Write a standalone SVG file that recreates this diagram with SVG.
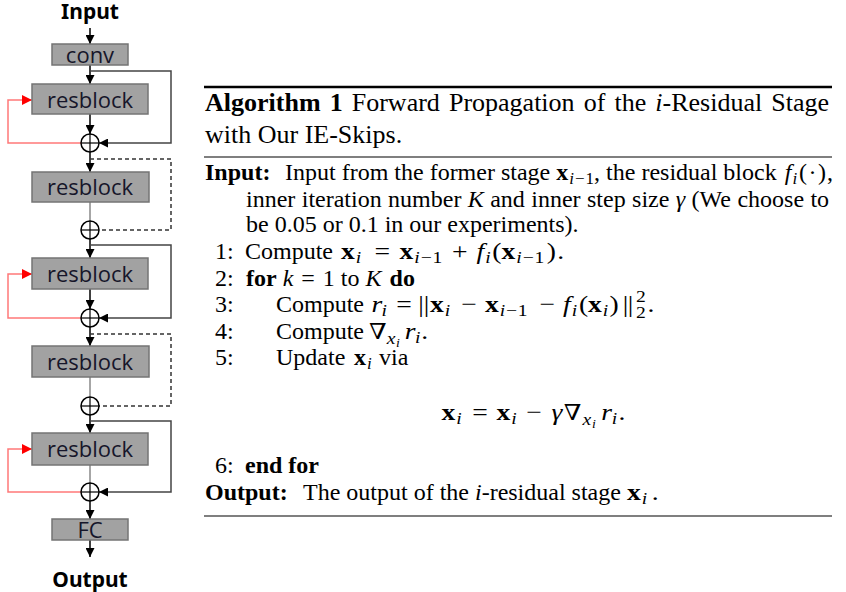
<svg xmlns="http://www.w3.org/2000/svg" width="846" height="592" viewBox="0 0 846 592">
<defs>
<marker id="ah" markerUnits="userSpaceOnUse" markerWidth="9" markerHeight="9" refX="9" refY="4.5" orient="auto"><path d="M0,0 L9,4.5 L0,9 z" fill="#000"/></marker>
<marker id="ahr" markerUnits="userSpaceOnUse" markerWidth="10" markerHeight="10" refX="10" refY="5" orient="auto"><path d="M0,0 L10,5 L0,10 z" fill="#ff0000"/></marker>
</defs>
<style>
.box{fill:#a2a2a2;stroke:#747474;stroke-width:1.5}
.lbl{font-family:"Open Sans","Noto Sans",sans-serif;font-size:22px;fill:#16162a;text-anchor:middle}
.io{font-family:"Noto Sans","Open Sans",sans-serif;font-weight:bold;font-size:21px;fill:#000;text-anchor:middle}
.main{stroke:#000;stroke-width:1.5;fill:none}
.gray{stroke:#888;stroke-width:1.5;fill:none}
.skip{stroke:#444;stroke-width:1.5;fill:none}
.dash{stroke:#333;stroke-width:1.5;fill:none;stroke-dasharray:4 3}
.red{stroke:#ff7878;stroke-width:1.5;fill:none}
.sum circle{fill:#fff;stroke:#000;stroke-width:1.5}
.sum line{stroke:#000;stroke-width:1.2}
.t{font-family:"Liberation Serif","DejaVu Serif",serif;font-size:24px;fill:#000}
.h{font-size:26px}
.b{font-weight:bold}
.i{font-style:italic}
.s{font-size:17px}
.ss{font-size:12px}
.nb{font-size:22px}
.rule{stroke:#000}
</style>

<g id="connectors">
<line class="main" x1="90" y1="28" x2="90" y2="44" marker-end="url(#ah)"/>
<line class="main" x1="90" y1="65" x2="90" y2="84" marker-end="url(#ah)"/>
<line class="main" x1="90" y1="114" x2="90" y2="134" marker-end="url(#ah)"/>
<path class="skip" d="M90,71 H171 V143 H99" marker-end="url(#ah)"/>
<path class="red" d="M81,143 H8 V100 H32" marker-end="url(#ahr)"/>
<line class="main" x1="90" y1="152" x2="90" y2="172" marker-end="url(#ah)"/>
<path class="dash" d="M90,159 H171 V230 H99"/>
<line class="gray" x1="90" y1="202" x2="90" y2="221"/>
<line class="main" x1="90" y1="239" x2="90" y2="258" marker-end="url(#ah)"/>
<path class="skip" d="M90,245 H171 V318 H99" marker-end="url(#ah)"/>
<line class="main" x1="90" y1="289" x2="90" y2="309" marker-end="url(#ah)"/>
<path class="red" d="M81,318 H8 V274 H32" marker-end="url(#ahr)"/>
<line class="main" x1="90" y1="327" x2="90" y2="346" marker-end="url(#ah)"/>
<path class="dash" d="M90,334 H171 V406 H99"/>
<line class="gray" x1="90" y1="377" x2="90" y2="397"/>
<line class="main" x1="90" y1="415" x2="90" y2="433" marker-end="url(#ah)"/>
<path class="skip" d="M90,421 H171 V492 H99" marker-end="url(#ah)"/>
<line class="gray" x1="90" y1="465" x2="90" y2="483"/>
<path class="red" d="M81,492 H8 V449 H32" marker-end="url(#ahr)"/>
<line class="main" x1="90" y1="501" x2="90" y2="519" marker-end="url(#ah)"/>
<line class="main" x1="90" y1="540" x2="90" y2="557" marker-end="url(#ah)"/>
</g>

<g id="input"><text class="io" x="90" y="19">Input</text></g>
<g id="conv"><rect class="box" x="52" y="44" width="76" height="21"/><text class="lbl" x="90" y="63">conv</text></g>
<g id="resblock1"><rect class="box" x="32" y="84" width="116" height="30"/><text class="lbl" x="90" y="108">resblock</text></g>
<g id="sum1" class="sum"><circle cx="90" cy="143" r="9"/><line x1="81" y1="143" x2="99" y2="143"/><line x1="90" y1="134" x2="90" y2="152"/></g>
<g id="resblock2"><rect class="box" x="32" y="172" width="117" height="30"/><text class="lbl" x="90" y="195">resblock</text></g>
<g id="sum2" class="sum"><circle cx="90" cy="230" r="9"/><line x1="81" y1="230" x2="99" y2="230"/><line x1="90" y1="221" x2="90" y2="239"/></g>
<g id="resblock3"><rect class="box" x="32" y="258" width="116" height="31"/><text class="lbl" x="90" y="282">resblock</text></g>
<g id="sum3" class="sum"><circle cx="90" cy="318" r="9"/><line x1="81" y1="318" x2="99" y2="318"/><line x1="90" y1="309" x2="90" y2="327"/></g>
<g id="resblock4"><rect class="box" x="32" y="346" width="117" height="31"/><text class="lbl" x="90" y="370">resblock</text></g>
<g id="sum4" class="sum"><circle cx="90" cy="406" r="9"/><line x1="81" y1="406" x2="99" y2="406"/><line x1="90" y1="397" x2="90" y2="415"/></g>
<g id="resblock5"><rect class="box" x="32" y="433" width="116" height="32"/><text class="lbl" x="90" y="457">resblock</text></g>
<g id="sum5" class="sum"><circle cx="90" cy="492" r="9"/><line x1="81" y1="492" x2="99" y2="492"/><line x1="90" y1="483" x2="90" y2="501"/></g>
<g id="fc"><rect class="box" x="52" y="519" width="76" height="21"/><text class="lbl" x="90" y="538">FC</text></g>
<g id="output"><text class="io" x="90" y="587">Output</text></g>

<g id="algorithm">
<line class="rule" x1="204" y1="87" x2="832" y2="87" stroke-width="2.6"/>
<line class="rule" x1="204" y1="157" x2="832" y2="157" stroke-width="1.2"/>
<line class="rule" x1="204" y1="516" x2="832" y2="516" stroke-width="1.2"/>

<text class="t h" x="205" y="111" word-spacing="2.6"><tspan class="b">Algorithm 1</tspan> Forward Propagation of the <tspan class="i">i</tspan>-Residual Stage</text>
<text class="t h" x="205" y="143">with Our IE-Skips.</text>

<text class="t b" x="205" y="180">Input:</text>
<text class="t" x="285" y="180">Input from the former stage <tspan class="b">x</tspan><tspan class="s i" dx="1" dy="4">i</tspan><tspan class="s" dx="1">−</tspan><tspan class="s" dx="1">1</tspan><tspan dy="-4">, the residual block </tspan><tspan class="i" dx="2">f</tspan><tspan class="s i" dx="1" dy="4">i</tspan><tspan dx="2" dy="-4">(</tspan><tspan dx="1.5">·</tspan><tspan dx="1.5">)</tspan><tspan dx="1">,</tspan></text>
<text class="t" x="246" y="207" word-spacing="0.4">inner iteration number <tspan class="i">K</tspan> and inner step size <tspan class="i">γ</tspan> (We choose to</text>
<text class="t" x="246" y="232">be 0.05 or 0.1 in our experiments).</text>

<text class="t" x="215" y="259">1:</text>
<text class="t" x="245" y="259">Compute</text>
<text class="t" transform="translate(341,0) scale(1.15,1)" y="259"><tspan class="b" x="0">x</tspan><tspan class="s i" x="12.8" y="263">i</tspan><tspan x="29.1" y="259">=</tspan><tspan class="b" x="50.9">x</tspan><tspan class="s i" x="63.7" y="263">i</tspan><tspan class="s" x="69.3">−</tspan><tspan class="s" x="79.5">1</tspan><tspan x="96.5" y="259">+</tspan><tspan class="i" x="117.8">f</tspan><tspan class="s i" x="125.5" y="263">i</tspan><tspan x="131.5" y="259">(</tspan><tspan class="b" x="139.6">x</tspan><tspan class="s i" x="152.4" y="263">i</tspan><tspan class="s" x="158">−</tspan><tspan class="s" x="168.2">1</tspan><tspan x="179" y="259">)</tspan><tspan x="188">.</tspan></text>

<text class="t" x="215" y="286">2:</text>
<text class="t" x="246" y="286"><tspan class="b">for</tspan> <tspan class="i">k</tspan><tspan dx="8">=</tspan><tspan dx="8">1</tspan> to <tspan class="i">K</tspan> <tspan class="b" dx="2">do</tspan></text>

<text class="t" x="215" y="312">3:</text>
<text class="t" x="276" y="312">Compute</text>
<text class="t" transform="translate(371.5,0) scale(1.15,1)" y="312"><tspan class="i" x="0">r</tspan><tspan class="s i" x="8.8" y="316">i</tspan><tspan x="21.5" y="312">=</tspan><tspan x="40.6">|</tspan><tspan x="45.4">|</tspan><tspan class="b" x="50.9">x</tspan><tspan class="s i" x="63.7" y="316">i</tspan><tspan x="78" y="312">−</tspan><tspan class="b" x="98.7">x</tspan><tspan class="s i" x="111.5" y="316">i</tspan><tspan class="s" x="117">−</tspan><tspan class="s" x="127.2">1</tspan><tspan x="146.1" y="312">−</tspan><tspan class="i" x="166.5">f</tspan><tspan class="s i" x="174.2" y="316">i</tspan><tspan x="180.5" y="312">(</tspan><tspan class="b" x="188.3">x</tspan><tspan class="s i" x="201.1" y="316">i</tspan><tspan x="207" y="312">)</tspan><tspan x="218.5">|</tspan><tspan x="222.9">|</tspan><tspan class="s" x="230" y="302">2</tspan><tspan class="s" x="230" y="318">2</tspan><tspan x="240" y="312">.</tspan></text>

<text class="t" x="215" y="339">4:</text>
<text class="t" x="276" y="339">Compute</text>
<text class="t" transform="translate(369,0) scale(1.15,1)" y="339"><tspan class="nb" x="0">∇</tspan><tspan class="s i" x="15.5" y="344">x</tspan><tspan class="ss i" x="23.5" y="347">i</tspan><tspan class="i" x="31" y="339">r</tspan><tspan class="s i" x="40" y="343">i</tspan><tspan x="45.5" y="339">.</tspan></text>

<text class="t" x="215" y="365">5:</text>
<text class="t" y="365"><tspan x="276">Update</tspan><tspan class="b" x="354">x</tspan><tspan class="s i" x="367" y="369">i</tspan><tspan x="379" y="365">via</tspan></text>

<text class="t" transform="translate(441.5,0) scale(1.15,1)" y="420"><tspan class="b" x="0">x</tspan><tspan class="s i" x="12.8" y="424">i</tspan><tspan x="26.7" y="420">=</tspan><tspan class="b" x="47.8">x</tspan><tspan class="s i" x="60.6" y="424">i</tspan><tspan x="73.7" y="420">−</tspan><tspan class="i" x="95.7">γ</tspan><tspan class="nb" x="106.4">∇</tspan><tspan class="s i" x="122.6" y="425">x</tspan><tspan class="ss i" x="130.8" y="428">i</tspan><tspan class="i" x="139" y="420">r</tspan><tspan class="s i" x="148" y="424">i</tspan><tspan x="154" y="420">.</tspan></text>

<text class="t" x="215" y="473">6:</text>
<text class="t b" x="245" y="473">end for</text>

<text class="t b" x="205" y="500">Output:</text>
<text class="t" x="303" y="500">The output of the <tspan class="i">i</tspan>-residual stage</text>
<text class="t" transform="translate(627,0) scale(1.15,1)" y="500"><tspan class="b" x="0">x</tspan><tspan class="s i" x="12.8" y="504">i</tspan><tspan x="21.5" y="500">.</tspan></text>
</g>
</svg>
